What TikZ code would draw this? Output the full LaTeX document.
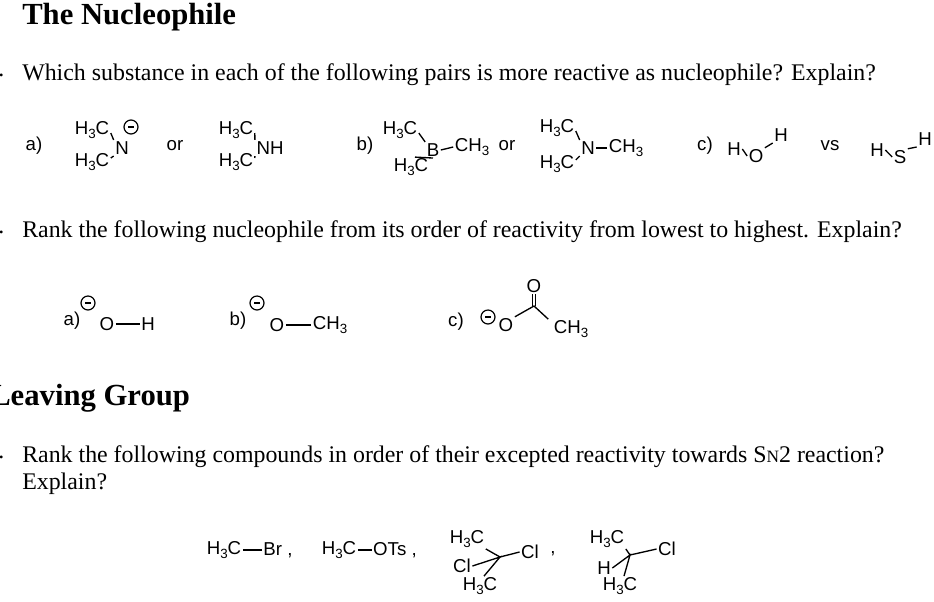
\documentclass[tikz,border=0pt]{standalone}
\usepackage{fontspec}
\setmainfont{Liberation Serif}
\newfontfamily\chem{Liberation Sans}
\newcommand{\sbt}{\raisebox{-0.35ex}{\fontsize{10}{12}\selectfont 3}}
\begin{document}
\begin{tikzpicture}[x=0.75pt,y=-0.75pt,
  head/.style={anchor=west,inner sep=0,font=\fontsize{23}{27}\selectfont\bfseries},
  q/.style={anchor=west,inner sep=0,font=\fontsize{17.9}{21}\selectfont},
  ch/.style={inner sep=1pt,font=\chem\fontsize{14}{16}\selectfont},
  bd/.style={line width=1pt},
  neg/.style={circle,draw,line width=0.9pt,minimum size=10.5pt,inner sep=0,
     label={[inner sep=0]center:{\tikz\draw[line width=0.9pt](0,0)--(4.5pt,0);}}}]
\useasboundingbox (0,0) rectangle (934,601);
\clip (0,0) rectangle (934,601);
% headings
\node[head] (h1) at (22,17) {The Nucleophile};
\node[q] (d1) at (-2,75) {.};
\node[q] (q1) at (22,75) {Which substance in each of the following pairs is more reactive as nucleophile? Explain?};
\node[q] (d2) at (-2,232) {.};
\node[q] (q2) at (22,232) {Rank the following nucleophile from its order of reactivity from lowest to highest. Explain?};
\node[head] (h2) at (-10,398) {Leaving Group};
\node[q] (d3) at (-2,457) {.};
\node[q] (q3) at (22,457) {Rank the following compounds in order of their excepted reactivity towards S{\fontsize{13}{15}\selectfont N}2 reaction?};
\node[q] (q4) at (22,484) {Explain?};
% row a
\node[ch] (la) at (34,146) {a)};
\node[ch] (m1) at (92,130) {H\sbt C};
\node[ch] (m2) at (92,162) {H\sbt C};
\node[ch] (n1) at (122,148) {N};
\node[neg] (c1) at (131,127) {};
\draw[bd] (m1.east)++(0,3) -- (n1.north west);
\draw[bd] (m2.east)++(0,-4) -- (n1.south west);
\node[ch] (or1) at (175,146) {or};
\node[ch] (m3) at (236,130) {H\sbt C};
\node[ch] (m4) at (236,162) {H\sbt C};
\node[ch] (n2) at (270,148) {NH};
\draw[bd] (m3.east)++(0,3) -- (n2.north west);
\draw[bd] (m4.east)++(0,-4) -- (n2.south west);
% b
\node[ch] (lb) at (365,146) {b)};
\node[ch] (m5) at (400,130) {H\sbt C};
\node[ch] (bb) at (433,150) {B};
\node[ch] (m6) at (472,147) {CH\sbt};
\node[ch] (m7) at (411,167) {H\sbt C};
\draw[bd] (m5.east)++(0,3) -- (bb.north west);
\draw[bd] (bb.east) -- (m6.west);
\draw[bd] (bb.south) -- ([xshift=3pt]m7.north);
\node[ch] (or2) at (507,146) {or};
\node[ch] (m8) at (557,128) {H\sbt C};
\node[ch] (n3) at (588,148) {N};
\node[ch] (m9) at (626,148) {CH\sbt};
\node[ch] (m10) at (557,164) {H\sbt C};
\draw[bd] (m8.east)++(0,3) -- (n3.north west);
\draw[bd] (m10.east)++(0,-4) -- (n3.south west);
\draw[bd] (n3.east) -- (m9.west);
% c
\node[ch] (lc) at (705,146) {c)};
\node[ch] (h1a) at (734,149) {H};
\node[ch] (o1) at (756,156) {O};
\node[ch] (h1b) at (781,135) {H};
\draw[bd] (h1a.east) -- (o1.west);
\draw[bd] (o1.north east) -- (h1b.south west);
\node[ch] (vs) at (830,146) {vs};
\node[ch] (h2a) at (877,150) {H};
\node[ch] (s1) at (900,157) {S};
\node[ch] (h2b) at (925,139) {H};
\draw[bd] (h2a.east) -- (s1.west);
\draw[bd] (s1.north east) -- (h2b.south west);
% rank row
\node[ch] (ra) at (72,321) {a)};
\node[neg] (c2) at (88,303) {};
\node[ch] (o2) at (107,324) {O};
\node[ch] (h3) at (148,324) {H};
\draw[bd] (o2.east) -- (h3.west);
\node[ch] (rb) at (238,321) {b)};
\node[neg] (c3) at (257,303) {};
\node[ch] (o3) at (277,325) {O};
\node[ch] (m11) at (330,325) {CH\sbt};
\draw[bd] (o3.east) -- (m11.west);
\node[ch] (rc) at (456,322) {c)};
\node[neg] (c4) at (488,317) {};
\node[ch] (o4) at (506,325) {O};
\coordinate (cc) at (534,306);
\node[ch] (o5) at (534,286) {O};
\node[ch] (m12) at (571,329) {CH\sbt};
\draw[bd] (o4.north east) -- (cc) -- ([xshift=-3pt]m12.north west);
\draw[bd] ([xshift=-1.3pt]o5.south) -- ([xshift=-1.3pt]cc);
\draw[bd] ([xshift=1.3pt]o5.south) -- ([xshift=1.3pt]cc);
% leaving group row
\node[ch] (m13) at (224,550) {H\sbt C};
\node[ch] (br) at (278,550) {Br ,};
\draw[bd] (m13.east) -- (br.west);
\node[ch] (m14) at (339,550) {H\sbt C};
\node[ch] (ots) at (395,550) {OTs ,};
\draw[bd] (m14.east) -- (ots.west);
\coordinate (k1) at (500,557);
\node[ch] (m15) at (467,539) {H\sbt C};
\node[ch] (cl1) at (530,552) {Cl};
\node[ch] (cm) at (553,554) {,};
\node[ch] (cl2) at (462,566) {Cl};
\node[ch] (m16) at (480,586) {H\sbt C};
\draw[bd] (m15.south east) -- (k1) -- (cl1.west);
\draw[bd] (cl2.east) -- (k1) -- ([xshift=3pt]m16.north);
\coordinate (k2) at (630,555);
\node[ch] (m17) at (607,539) {H\sbt C};
\node[ch] (cl3) at (667,549) {Cl};
\node[ch] (hh) at (604,568) {H};
\node[ch] (m18) at (620,586) {H\sbt C};
\draw[bd] (m17.south east) -- (k2) -- (cl3.west);
\draw[bd] (hh.east) -- (k2) -- ([xshift=3pt]m18.north);
\end{tikzpicture}
\end{document}
